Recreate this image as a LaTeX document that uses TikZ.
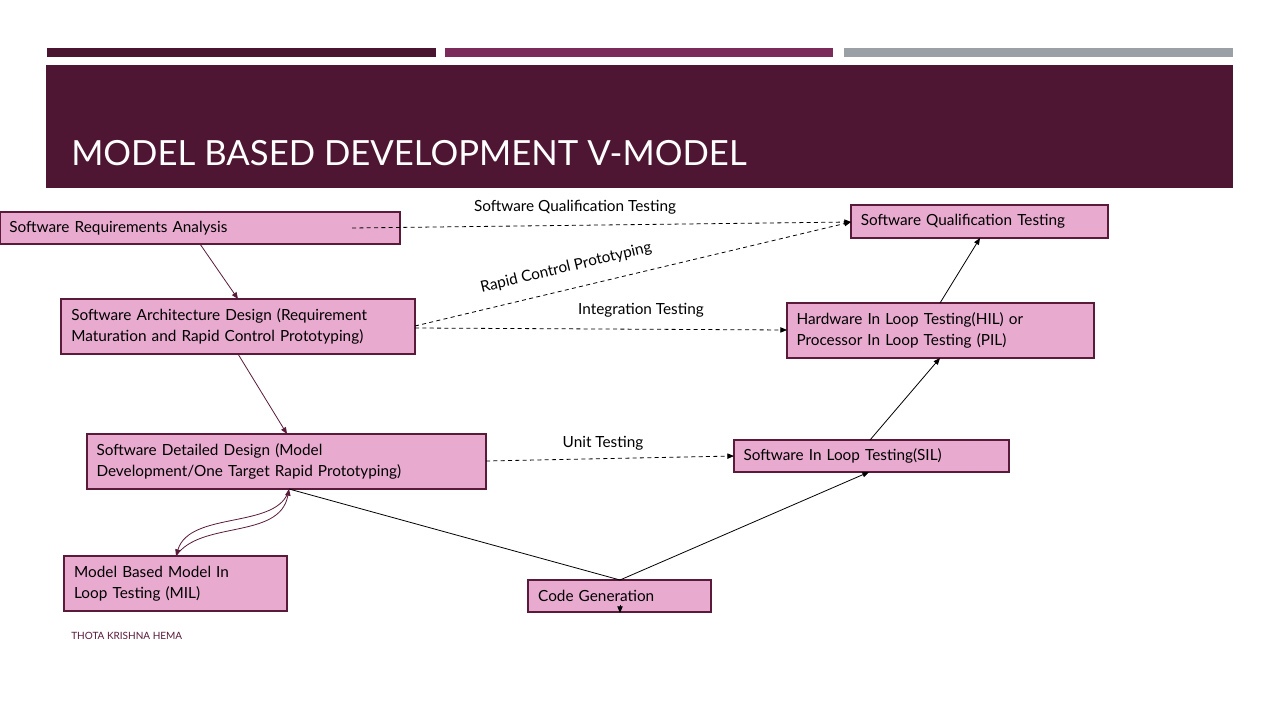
\documentclass[tikz,border=0pt]{standalone}
\usepackage{fontspec}
\setmainfont{Lato}
\usetikzlibrary{arrows.meta}
\definecolor{band}{HTML}{4F1634}
\definecolor{bar1}{HTML}{4A1530}
\definecolor{bar2}{HTML}{7B2A5C}
\definecolor{bar3}{HTML}{9AA0A6}
\definecolor{boxf}{HTML}{E8AACF}
\definecolor{edge}{HTML}{5A1A3A}
\begin{document}
\begin{tikzpicture}[x=0.75pt,y=-0.75pt,
  box/.style={draw=edge,fill=boxf,line width=0.8pt,inner sep=0pt,font=\fontsize{11.5}{16}\selectfont,align=left,text width=#1},
  arr/.style={-{Triangle[length=5pt,width=4pt]},line width=0.6pt,draw=edge},
  darr/.style={arr,draw=black,dash pattern=on 3pt off 2.5pt},
  lbl/.style={font=\fontsize{11.5}{14}\selectfont,inner sep=1pt}]
\useasboundingbox (0,0) rectangle (1280,720);
\fill[white] (0,0) rectangle (1280,720);
\fill[bar1] (47,48) rectangle (436,57);
\fill[bar2] (445,48) rectangle (833,57);
\fill[bar3] (844,48) rectangle (1233,57);
\fill[band] (46,65) rectangle (1233,188);
\node[anchor=base west,text=white,font=\fontsize{26}{30}\selectfont,inner sep=0pt] (title) at (71,166) {MODEL BASED DEVELOPMENT V-MODEL};

\node[box=286pt,minimum width=304*0.75pt,minimum height=32*0.75pt,inner xsep=7pt] (A) at (200,228) {Software Requirements Analysis};
\node[box=250pt,minimum width=354*0.75pt,minimum height=55*0.75pt,inner xsep=7pt] (B) at (238,326.5) {Software Architecture Design (Requirement\\Maturation and Rapid Control Prototyping)};
\node[box=285pt,minimum width=399*0.75pt,minimum height=55*0.75pt,inner xsep=7pt] (C) at (286.5,461.5) {Software Detailed Design (Model\\Development/One Target Rapid Prototyping)};
\node[box=152pt,minimum width=223*0.75pt,minimum height=55*0.75pt,inner xsep=7pt] (D) at (175.5,583.5) {Model Based Model In\\Loop Testing (MIL)};
\node[box=122pt,minimum width=183*0.75pt,minimum height=32*0.75pt,inner xsep=7pt] (E) at (619.5,596) {Code Generation};
\node[box=192pt,minimum width=275*0.75pt,minimum height=32*0.75pt,inner xsep=7pt] (F) at (871.5,456) {Software In Loop Testing(SIL)};
\node[box=216pt,minimum width=307*0.75pt,minimum height=55*0.75pt,inner xsep=7pt] (G) at (940.5,330.5) {Hardware In Loop Testing(HIL) or\\Processor In Loop Testing (PIL)};
\node[box=178pt,minimum width=257*0.75pt,minimum height=33*0.75pt,inner xsep=7pt] (H) at (979.5,221.5) {Software Qualification Testing};

\coordinate (Cb) at (289,489);
\coordinate (Dt) at (176,556);
\coordinate (Et) at (620,580);
\coordinate (Eb) at (620,613);
\coordinate (Ebb) at (620,605);

\draw[arr] (200,244) -- (238,299);
\draw[arr] (238,354) -- (287,434);
\draw[arr] (Cb) .. controls (280,530) and (190,510) .. (Dt);
\draw[arr] (Dt) .. controls (200,520) and (280,540) .. (Cb);
\draw[line width=0.6pt,draw=black] (Cb) -- (Et);
\draw[arr,draw=black] (Et) -- (869,472);
\draw[arr,draw=black] (Ebb) -- (Eb);
\draw[arr,draw=black] (870,440) -- (940,358);
\draw[arr,draw=black] (940,303) -- (980,238);

\draw[darr] (352,228) -- (851,222);
\draw[darr] (415,326) -- (851,222);
\draw[darr] (415,328) -- (787,330);
\draw[darr] (486,461) -- (734,456);

\node[lbl] (l1) at (575,207) {Software Qualification Testing};
\node[lbl,rotate=13.4] (l2) at (566,268) {Rapid Control Prototyping};
\node[lbl] (l3) at (641,310) {Integration Testing};
\node[lbl] (l4) at (603,443) {Unit Testing};
\node[anchor=west,font=\fontsize{7.5}{9}\selectfont,text=edge,inner sep=0pt] (foot) at (71,636) {THOTA KRISHNA HEMA};
\end{tikzpicture}
\end{document}
